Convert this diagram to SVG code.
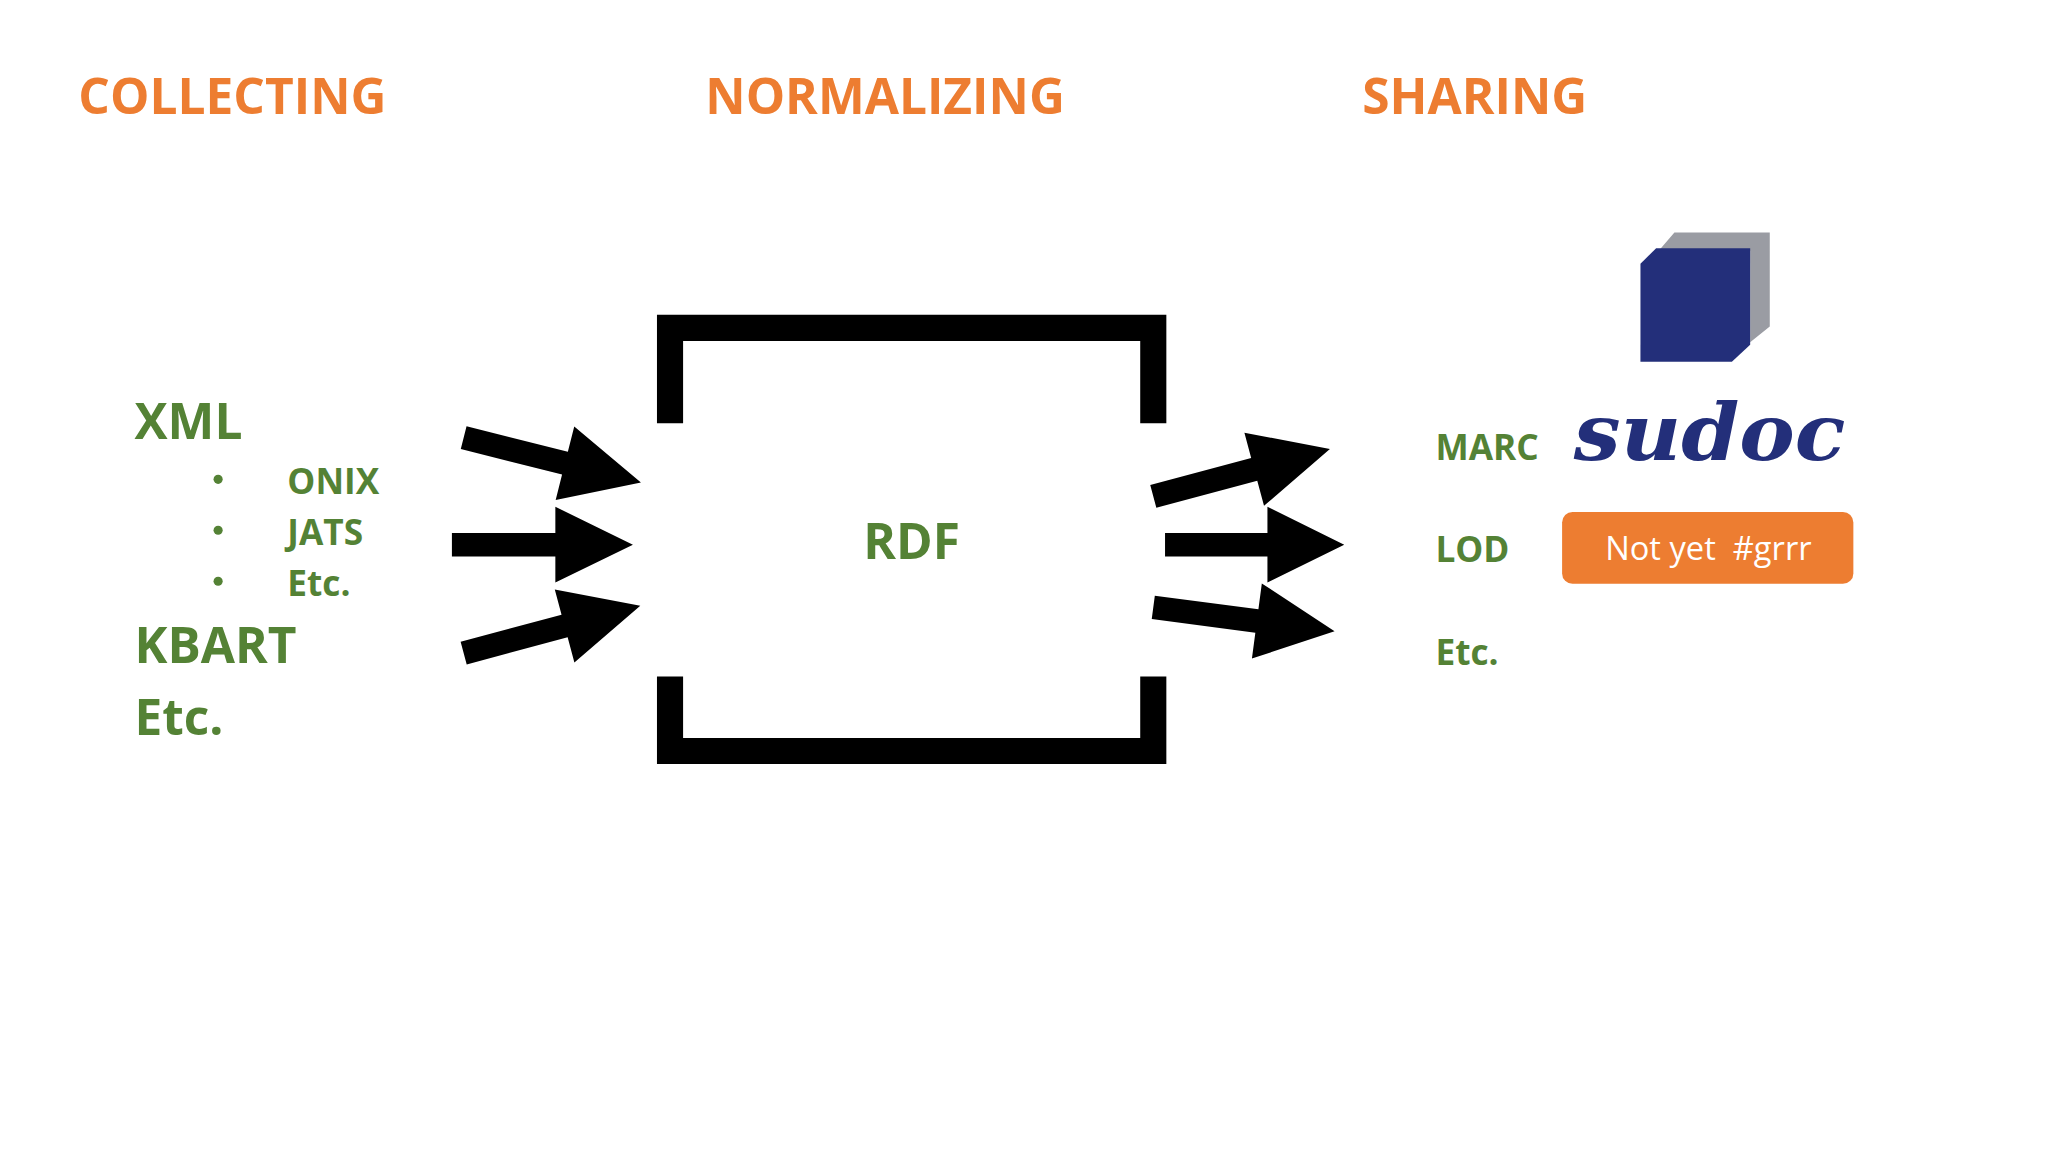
<svg xmlns="http://www.w3.org/2000/svg" width="2048" height="1152" viewBox="0 0 2048 1152">
<style>
.h{font-family:"Open Sans","Liberation Sans",sans-serif;font-weight:bold;fill:#ED7D31;font-size:38px}
.g{font-family:"Open Sans","Liberation Sans",sans-serif;font-weight:bold;fill:#548235}
.big{font-size:38px}.sm{font-size:27px}
</style>
<defs>
<polygon id="arr" points="0,-9 80,-9 80,-29 140,0 80,29 80,9 0,9" fill="#000"/>
</defs>
<rect width="2048" height="1152" fill="#fff"/>
<g transform="scale(1.3061)">
<g id="headings">
<text class="h" x="60" y="87">COLLECTING</text>
<text class="h" x="540" y="87">NORMALIZING</text>
<text class="h" x="1043" y="87">SHARING</text>
</g>
<g id="collecting">
<text class="g big" x="103" y="336">XML</text>
<circle cx="167" cy="367" r="3.5" fill="#548235"/>
<circle cx="167" cy="406" r="3.5" fill="#548235"/>
<circle cx="167" cy="445" r="3.5" fill="#548235"/>
<text class="g sm" x="220" y="378">ONIX</text>
<text class="g sm" x="220" y="417">JATS</text>
<text class="g sm" x="220" y="456">Etc.</text>
<text class="g big" x="103" y="508">KBART</text>
<text class="g big" x="103" y="563">Etc.</text>
</g>
<g id="rdf">
<polyline points="513,324 513,251 883,251 883,324" fill="none" stroke="#000" stroke-width="20"/>
<polyline points="513,518 513,575 883,575 883,518" fill="none" stroke="#000" stroke-width="20"/>
<text class="g big" x="698" y="428" text-anchor="middle">RDF</text>
</g>
<g id="connectors">
<use href="#arr" transform="translate(355,335) rotate(14.2)"/>
<use href="#arr" transform="translate(346,417) scale(0.99,1)"/>
<use href="#arr" transform="translate(355,500) rotate(-15)"/>
<use href="#arr" transform="translate(883,380) rotate(-15)"/>
<use href="#arr" transform="translate(892,417) scale(0.98,1)"/>
<use href="#arr" transform="translate(883,465) rotate(7.5)"/>
</g>
<g id="sharing">
<text class="g sm" x="1099" y="352">MARC</text>
<text class="g sm" x="1099" y="430">LOD</text>
<text class="g sm" x="1099" y="509">Etc.</text>
</g>
<g id="sudoc">
<polygon points="1282,178 1355,178 1355,250 1340,262 1340,192 1270,192" fill="#9a9ca3"/>
<polygon points="1268,190 1340,190 1340,264 1326,277 1256,277 1256,202" fill="#232f7a"/>
<text x="1205" y="352" font-family="DejaVu Serif,serif" font-style="italic" font-weight="bold" font-size="60" fill="#232f7a" textLength="208" lengthAdjust="spacingAndGlyphs">sudoc</text>
</g>
<g id="notyet">
<rect x="1196" y="392" width="223" height="55" rx="8" fill="#ED7D31"/>
<text x="1308" y="429" text-anchor="middle" font-family="Open Sans,Liberation Sans,sans-serif" font-size="25" fill="#fff" xml:space="preserve">Not yet  #grrr</text>
</g>
</g>
</svg>
